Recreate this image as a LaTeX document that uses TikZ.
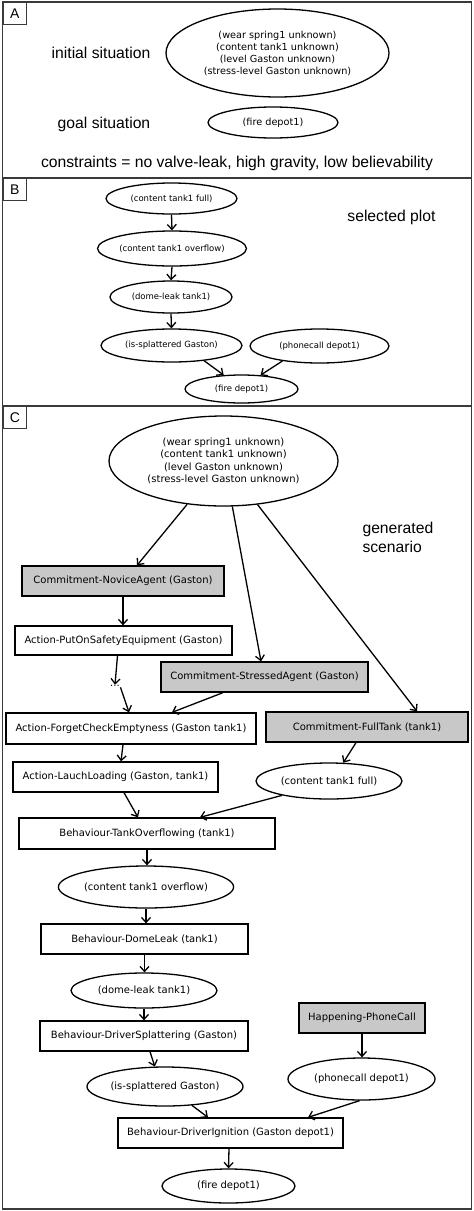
\documentclass[tikz,border=0pt]{standalone}
\usepackage{fontspec}
\setmainfont{Liberation Sans}
\newfontfamily\dv{DejaVu Sans}
\usetikzlibrary{shapes.geometric,arrows.meta}
\definecolor{framegray}{HTML}{3A3A3A}
\definecolor{boxgray}{HTML}{C8C8C8}
\begin{document}
\begin{tikzpicture}[x=1pt,y=-1pt,
  ellA/.style={ellipse, draw, line width=1.3pt, inner sep=0pt, align=center, font=\dv\fontsize{9.7}{12}\selectfont},
  ellB/.style={ellipse, draw, line width=1.3pt, inner sep=0pt, font=\dv\fontsize{8.5}{10}\selectfont},
  ellC/.style={ellipse, draw, line width=1.3pt, inner sep=0pt, align=center, font=\dv\fontsize{10}{12.3}\selectfont},
  boxC/.style={rectangle, draw, line width=1.3pt, inner sep=0pt, font=\dv\fontsize{10}{12}\selectfont},
  gbox/.style={boxC, fill=boxgray},
  big/.style={font=\fontsize{15.7}{19}\selectfont},
  edge/.style={line width=1.3pt, -{Straight Barb[length=5pt,width=9pt]}},
  frame/.style={draw=framegray, line width=1.5pt},
  tag/.style={rectangle, draw=framegray, line width=1.3pt, anchor=north west, minimum width=23.5pt, minimum height=22pt, inner sep=0pt, font=\fontsize{14}{16}\selectfont}
]
\useasboundingbox[fill=white] (0,0) rectangle (474,1211);
% panels
\draw[frame] (2.5,2) rectangle (471.5,178);
\draw[frame] (2.5,178) rectangle (471.5,406);
\draw[frame] (2.5,406) rectangle (471.5,1209);
\node[tag] (tA) at (2.5,2) {A};
\node[tag] (tB) at (2.5,178) {B};
\node[tag] (tC) at (2.5,406) {C};

% ---------- Panel A
\node[big] (lInit) at (101,53) {initial situation};
\node[ellA, minimum width=223pt, minimum height=88pt] (aInit) at (277.5,53)
  {(wear spring1 unknown)\\(content tank1 unknown)\\(level Gaston unknown)\\(stress-level Gaston unknown)};
\node[big] (lGoal) at (104,124) {goal situation};
\node[ellA, minimum width=130pt, minimum height=31pt] (aGoal) at (273,122.5) {(fire depot1)};
\node[big] (lCons) at (237,163) {constraints = no valve-leak, high gravity, low believability};

% ---------- Panel B
\node[big] (lSel) at (391.5,217) {selected plot};
\node[ellB, minimum width=131pt, minimum height=31pt] (b1) at (171.5,198.5) {(content tank1 full)};
\node[ellB, minimum width=142pt, minimum height=35pt] (b2) at (172,248.5) {(content tank1 overflow)};
\node[ellB, minimum width=122pt, minimum height=32pt] (b3) at (171,297) {(dome-leak tank1)};
\node[ellB, minimum width=141pt, minimum height=33pt] (b4) at (171.5,345.5) {(is-splattered Gaston)};
\node[ellB, minimum width=139pt, minimum height=34pt] (b5) at (319.5,346) {(phonecall depot1)};
\node[ellB, minimum width=113pt, minimum height=28pt] (b6) at (241.5,389) {(fire depot1)};
\draw[edge] (b1.south) -- (b2.north);
\draw[edge] (b2.south) -- (b3.north);
\draw[edge] (b3.south) -- (b4.north);
\draw[edge] (b4.335) -- (b6.142);
\draw[edge] (b5.202) -- (b6.36);

% ---------- Panel C
\node[ellC, minimum width=229pt, minimum height=90pt] (cTop) at (223.5,461)
  {(wear spring1 unknown)\\(content tank1 unknown)\\(level Gaston unknown)\\(stress-level Gaston unknown)};
\node[big, anchor=west, align=left] (lGen) at (359,537.5) {generated\\scenario};

\node[gbox, minimum width=202pt, minimum height=30pt] (nov) at (123,581) {Commitment-NoviceAgent (Gaston)};
\node[boxC, minimum width=217pt, minimum height=29pt] (put) at (123.5,640.5) {Action-PutOnSafetyEquipment (Gaston)};
\node[gbox, minimum width=207pt, minimum height=30pt] (str) at (264.5,677) {Commitment-StressedAgent (Gaston)};
\node[font=\dv\fontsize{10}{10}\selectfont, inner sep=0.5pt] (dots) at (115,686) {...};
\node[boxC, minimum width=250pt, minimum height=31pt] (fgt) at (131,728.5) {Action-ForgetCheckEmptyness (Gaston tank1)};
\node[gbox, minimum width=202pt, minimum height=30pt] (full) at (367,727) {Commitment-FullTank (tank1)};
\node[boxC, minimum width=205pt, minimum height=30pt] (lch) at (115.5,777) {Action-LauchLoading (Gaston, tank1)};
\node[ellC, minimum width=146pt, minimum height=36pt] (ctf) at (329,781) {(content tank1 full)};
\node[boxC, minimum width=256pt, minimum height=31pt] (tov) at (147,833.5) {Behaviour-TankOverflowing (tank1)};
\node[ellC, minimum width=168pt, minimum height=42pt] (cto) at (146,887) {(content tank1 overflow)};
\node[boxC, minimum width=207pt, minimum height=30pt] (dome) at (144.5,939) {Behaviour-DomeLeak (tank1)};
\node[ellC, minimum width=146pt, minimum height=35pt] (dlt) at (144,990.5) {(dome-leak tank1)};
\node[gbox, minimum width=126pt, minimum height=30pt] (hpc) at (362,1018) {Happening-PhoneCall};
\node[boxC, minimum width=208pt, minimum height=30pt] (spl) at (144,1036) {Behaviour-DriverSplattering (Gaston)};
\node[ellC, minimum width=156pt, minimum height=39pt] (isg) at (165,1086.5) {(is-splattered Gaston)};
\node[ellC, minimum width=147pt, minimum height=42pt] (phn) at (361.5,1079) {(phonecall depot1)};
\node[boxC, minimum width=225pt, minimum height=30pt] (ign) at (230.5,1133) {Behaviour-DriverIgnition (Gaston depot1)};
\node[ellC, minimum width=133pt, minimum height=34pt] (fire) at (228.5,1186) {(fire depot1)};

\draw[edge] (cTop.230) -- ([xshift=14pt]nov.north);
\draw[edge] (cTop.281) -- ([xshift=-3.5pt]str.north);
\draw[edge] (cTop.308) -- ([xshift=50pt]full.north);
\draw[edge] (nov.south) -- (nov.south |- put.north);
\draw[edge] ([xshift=-6pt]put.south) -- (dots.north);
\draw[edge] (dots.south east) -- ([xshift=-2pt]fgt.north);
\draw[edge] ([xshift=-41.5pt]str.south) -- ([xshift=41pt]fgt.north);
\draw[edge] ([xshift=-8pt]fgt.south) -- ([xshift=5.5pt]lch.north);
\draw[edge] ([xshift=-11pt]full.south) -- (ctf.52);
\draw[edge] ([xshift=8.5pt]lch.south) -- ([xshift=-9pt]tov.north);
\draw[edge] (ctf.197) -- ([xshift=53pt]tov.north);
\draw[edge] (tov.south) -- (tov.south |- cto.north);
\draw[edge] (cto.south) -- (cto.south |- dome.north);
\draw[edge] (dome.south) -- (dome.south |- dlt.north);
\draw[edge] (dlt.south) -- (dlt.south |- spl.north);
\draw[edge] ([xshift=6pt]spl.south) -- (isg.117);
\draw[edge] (hpc.south) -- (hpc.south |- phn.north);
\draw[edge] (isg.325) -- ([xshift=-22.5pt]ign.north);
\draw[edge] (phn.265) -- ([xshift=77.5pt]ign.north);
\draw[edge] ([xshift=-1.5pt]ign.south) -- (fire.north);
\end{tikzpicture}
\end{document}
